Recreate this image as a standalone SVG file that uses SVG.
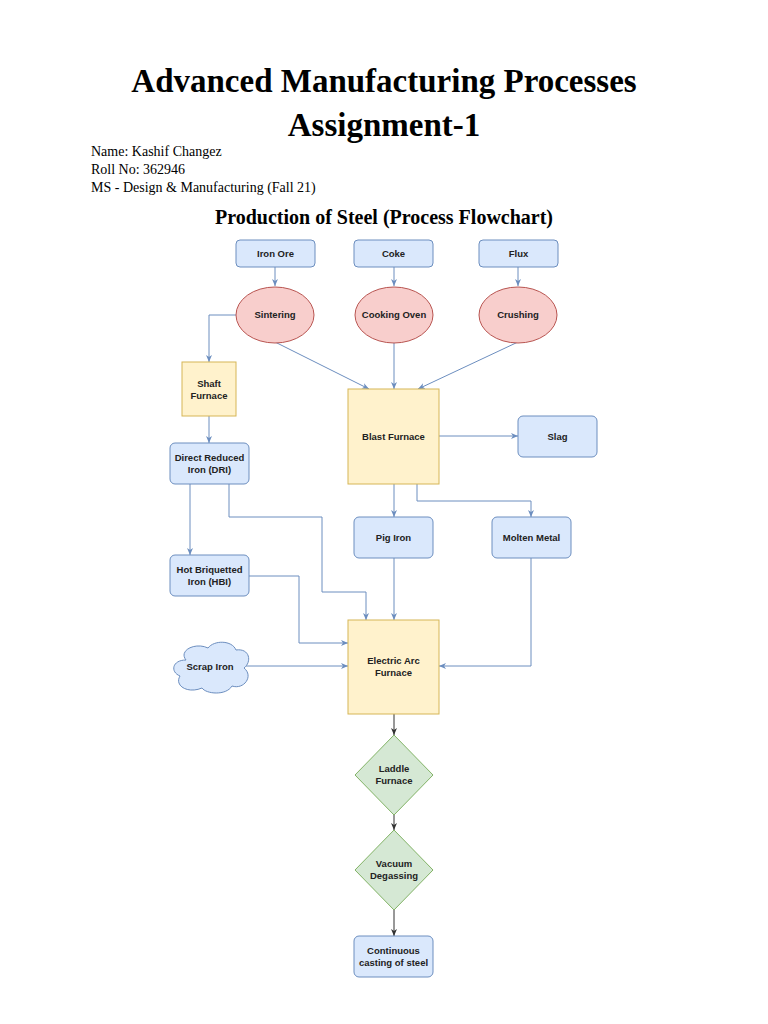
<svg xmlns="http://www.w3.org/2000/svg" width="768" height="1024" viewBox="0 0 768 1024">
<style>
.t{font-family:"Liberation Serif",serif;fill:#000}
.l{font-family:"Liberation Sans",Arial,sans-serif;font-size:9.5px;font-weight:bold;fill:#222;text-anchor:middle}
.b{fill:#dae8fc;stroke:#6c8ebf;stroke-width:1}
.y{fill:#fff2cc;stroke:#d6b656;stroke-width:1}
.r{fill:#f8cecc;stroke:#b85450;stroke-width:1}
.g{fill:#d5e8d4;stroke:#82b366;stroke-width:1}
.c path{fill:none;stroke:#6c8ebf;stroke-width:1;marker-end:url(#a)}
.c path.k{stroke:#333;marker-end:url(#k)}
</style>
<defs>
<marker id="a" markerWidth="8" markerHeight="8" refX="7" refY="4" orient="auto" markerUnits="userSpaceOnUse"><path d="M0,1 L7,4 L0,7 L2,4z" fill="#6c8ebf"/></marker>
<marker id="k" markerWidth="8" markerHeight="8" refX="7" refY="4" orient="auto" markerUnits="userSpaceOnUse"><path d="M0,1 L7,4 L0,7 L2,4z" fill="#333"/></marker>
</defs>
<rect width="768" height="1024" fill="#fff"/>
<text class="t" x="384" y="92" font-size="33" font-weight="bold" text-anchor="middle">Advanced Manufacturing Processes</text>
<text class="t" x="384" y="136" font-size="33" font-weight="bold" text-anchor="middle">Assignment-1</text>
<text class="t" x="91" y="156" font-size="14">Name: Kashif Changez</text>
<text class="t" x="91" y="174" font-size="14">Roll No: 362946</text>
<text class="t" x="91" y="192" font-size="14">MS - Design &amp; Manufacturing (Fall 21)</text>
<text class="t" x="384" y="224" font-size="20" font-weight="bold" text-anchor="middle">Production of Steel (Process Flowchart)</text>
<g class="c">
<path d="M275,267V286"/>
<path d="M394,267V286"/>
<path d="M518,267V286"/>
<path d="M236,315H209V362"/>
<path d="M275,342L369,389"/>
<path d="M394,343V389"/>
<path d="M518,342L418,389"/>
<path d="M439,436H518"/>
<path d="M394,484V517"/>
<path d="M417,484V501H531V517"/>
<path d="M209,416V443"/>
<path d="M190,484V555"/>
<path d="M229,484V517H322V592H366V620"/>
<path d="M394,558V620"/>
<path d="M249,576H299V643H348"/>
<path d="M246,666H348"/>
<path d="M531,558V666H439"/>
<path class="k" d="M394,714V735"/>
<path class="k" d="M394,815V830"/>
<path class="k" d="M394,910V936"/>
</g>
<g id="iron-ore"><rect class="b" x="236" y="240" width="79" height="27" rx="4"/><text class="l" x="275.5" y="257">Iron Ore</text></g>
<g id="coke"><rect class="b" x="354" y="240" width="79" height="27" rx="4"/><text class="l" x="393.5" y="257">Coke</text></g>
<g id="flux"><rect class="b" x="479" y="240" width="79" height="27" rx="4"/><text class="l" x="518.5" y="257">Flux</text></g>
<g id="sintering"><ellipse class="r" cx="275" cy="315" rx="39" ry="28"/><text class="l" x="275" y="318">Sintering</text></g>
<g id="cooking-oven"><ellipse class="r" cx="394" cy="315" rx="39" ry="28"/><text class="l" x="394" y="318">Cooking Oven</text></g>
<g id="crushing"><ellipse class="r" cx="518" cy="315" rx="39" ry="28"/><text class="l" x="518" y="318">Crushing</text></g>
<g id="shaft-furnace"><rect class="y" x="182" y="362" width="54" height="54"/><text class="l" x="209" y="387">Shaft</text><text class="l" x="209" y="399">Furnace</text></g>
<g id="blast-furnace"><rect class="y" x="348" y="389" width="91" height="95"/><text class="l" x="393.5" y="440">Blast Furnace</text></g>
<g id="slag"><rect class="b" x="518" y="416" width="79" height="41" rx="5"/><text class="l" x="557.5" y="440">Slag</text></g>
<g id="dri"><rect class="b" x="170" y="443" width="79" height="41" rx="5"/><text class="l" x="209.5" y="461">Direct Reduced</text><text class="l" x="209.5" y="473">Iron (DRI)</text></g>
<g id="pig-iron"><rect class="b" x="354" y="517" width="79" height="41" rx="5"/><text class="l" x="393.5" y="541">Pig Iron</text></g>
<g id="molten-metal"><rect class="b" x="492" y="517" width="79" height="41" rx="5"/><text class="l" x="531.5" y="541">Molten Metal</text></g>
<g id="hbi"><rect class="b" x="170" y="555" width="79" height="41" rx="5"/><text class="l" x="209.5" y="573">Hot Briquetted</text><text class="l" x="209.5" y="585">Iron (HBI)</text></g>
<g id="eaf"><rect class="y" x="348" y="620" width="91" height="94"/><text class="l" x="393.5" y="664">Electric Arc</text><text class="l" x="393.5" y="676">Furnace</text></g>
<g id="scrap-iron"><path class="b" d="M186,660 C178,650 196,642 208,648 C214,640 232,640 236,650 C250,648 252,662 244,668 C254,676 244,690 232,686 C226,696 206,694 202,688 C188,694 174,686 180,676 C170,672 172,660 186,660 Z"/><text class="l" x="210" y="670">Scrap Iron</text></g>
<g id="laddle-furnace"><path class="g" d="M394,735 L433,775 L394,815 L355,775 Z"/><text class="l" x="394" y="772">Laddle</text><text class="l" x="394" y="784">Furnace</text></g>
<g id="vacuum-degassing"><path class="g" d="M394,830 L433,870 L394,910 L355,870 Z"/><text class="l" x="394" y="867">Vacuum</text><text class="l" x="394" y="879">Degassing</text></g>
<g id="continuous-casting"><rect class="b" x="354" y="936" width="79" height="41" rx="5"/><text class="l" x="393.5" y="954">Continuous</text><text class="l" x="393.5" y="966">casting of steel</text></g>
</svg>
